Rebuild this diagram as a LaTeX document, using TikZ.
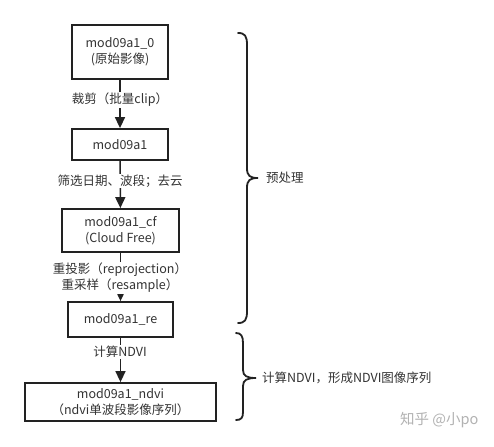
\documentclass[tikz,border=0pt]{standalone}
\usepackage{fontspec}
\setmainfont{Noto Sans CJK SC}
\usetikzlibrary{arrows.meta}
\definecolor{txt}{HTML}{333333}
\definecolor{ln}{HTML}{222222}
\begin{document}
\begin{tikzpicture}[x=1pt,y=-1pt,
  box/.style={draw=ln,line width=1.8pt,inner sep=0pt,align=center,text=txt,
    font=\fontsize{12.5}{16.5}\selectfont},
  arr/.style={draw=ln,line width=1.5pt,-{Triangle[length=11pt,width=10pt]}},
  lbl/.style={fill=white,inner sep=1pt,align=center,text=txt,
    font=\fontsize{12.5}{16}\selectfont},
  brace/.style={draw=ln,line width=1.8pt,line cap=round},
  blbl/.style={anchor=west,inner sep=0pt,text=txt,font=\fontsize{12.5}{16}\selectfont}]
\useasboundingbox (0,0) rectangle (494,446);
\fill[white] (0,0) rectangle (494,446);
\node[box,minimum width=96pt,minimum height=54pt] (b1) at (120,52) {mod09a1\_0\\(原始影像)};
\node[box,minimum width=96pt,minimum height=31pt] (b2) at (120,144.5) {mod09a1};
\node[box,minimum width=117pt,minimum height=43pt] (b3) at (120.5,230.5) {mod09a1\_cf\\(Cloud Free)};
\node[box,minimum width=105pt,minimum height=35pt] (b4) at (120.5,319.5) {mod09a1\_re};
\node[box,minimum width=191pt,minimum height=38pt] (b5) at (120.5,402) {mod09a1\_ndvi\\（ndvi单波段影像序列）};
\draw[arr] (b1) -- (b2);
\draw[arr] (b2) -- (b3);
\draw[arr] (b3.south -| b4.north) -- (b4);
\draw[arr] (b4) -- (b5);
\node[lbl] (l1) at (120,100) {裁剪（批量clip）};
\node[lbl] (l2) at (120,181) {筛选日期、波段；去云};
\node[lbl] (l3) at (120,278) {重投影（reprojection）\\重采样（resample）};
\node[lbl] (l4) at (120,352) {计算NDVI};
% brace 1
\draw[brace] (238,33) .. controls (245,33) and (247,36) .. (247,45) -- (247,168)
  .. controls (247,176) and (250,178) .. (258,178)
  .. controls (250,178) and (247,180) .. (247,188) -- (247,311)
  .. controls (247,320) and (245,323) .. (238,323);
\node[blbl] (p1) at (266,178) {预处理};
% brace 2
\draw[brace] (236,333) .. controls (241,333) and (243,336) .. (243,343) -- (243,370)
  .. controls (243,376) and (247,378) .. (256,378)
  .. controls (247,378) and (243,380) .. (243,386) -- (243,412)
  .. controls (243,418) and (241,420) .. (236,420);
\node[blbl] (p2) at (262,378) {计算NDVI，形成NDVI图像序列};
\node[anchor=west,inner sep=0pt,text=black!30,font=\fontsize{14.5}{16}\selectfont] (wm) at (400,420) {知乎 @小po};
\end{tikzpicture}
\end{document}
